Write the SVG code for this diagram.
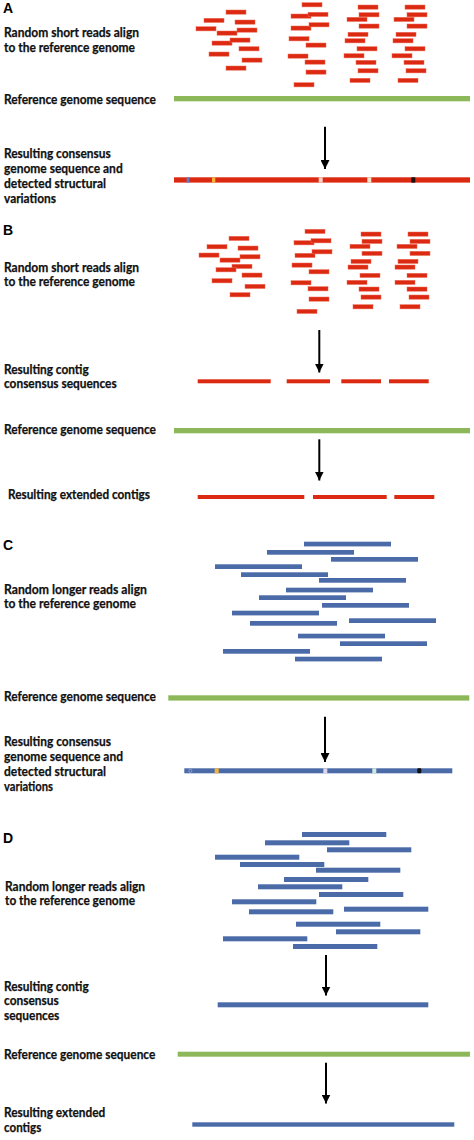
<svg xmlns="http://www.w3.org/2000/svg" width="474" height="1140" viewBox="0 0 474 1140">
<style>
  .lbl{font-family:"Lato","Open Sans","Liberation Sans",sans-serif;font-weight:bold;font-size:13px;fill:#111;stroke:#111;stroke-width:0.25}
  .sm{font-size:12.3px}
  .pl{font-family:"Liberation Sans",Arial,sans-serif;font-weight:bold;font-size:14px;fill:#000}
  .rr{fill:#dc2a12;stroke:#ee6a55;stroke-width:0.5}
  .rc{fill:#dc2a12}
  .bl{fill:#4b6aa8}
  .gr{fill:#8db85a}
  .arr{stroke:#000;stroke-width:2;fill:none;marker-end:url(#ah)}
</style>
<defs>
  <marker id="ah" markerUnits="userSpaceOnUse" markerWidth="9" markerHeight="9" refX="9" refY="4.5" orient="auto">
    <path d="M0,0 L9,4.5 L0,9 z" fill="#000"/>
  </marker>
  <rect id="sr" width="20" height="4.2"/>
  <rect id="lrC" width="87" height="4.7"/>
  <rect id="lrD" width="84.3" height="5"/>
</defs>
<rect width="474" height="1140" fill="#fff"/>

<!-- Panel A -->
<g id="panelA-title"><text class="pl" x="3" y="13.3">A</text></g>
<g id="panelA-reads-label">
  <text class="lbl" x="4" y="37" textLength="135" lengthAdjust="spacingAndGlyphs">Random short reads align</text>
  <text class="lbl" x="4" y="52" textLength="131" lengthAdjust="spacingAndGlyphs">to the reference genome</text>
</g>
<g id="panelA-reads" class="rr">
  <use href="#sr" x="226" y="10"/><use href="#sr" x="204" y="18.3"/><use href="#sr" x="235" y="20"/><use href="#sr" x="196" y="26.7"/><use href="#sr" x="217" y="31"/><use href="#sr" x="237" y="28"/><use href="#sr" x="212" y="41"/><use href="#sr" x="230" y="38"/><use href="#sr" x="239" y="46.7"/><use href="#sr" x="209" y="52"/><use href="#sr" x="242" y="58"/><use href="#sr" x="226" y="66"/>
  <use href="#sr" x="302" y="2.7"/><use href="#sr" x="291" y="14"/><use href="#sr" x="308" y="12.3"/><use href="#sr" x="291" y="26"/><use href="#sr" x="309" y="22.7"/><use href="#sr" x="289" y="36.7"/><use href="#sr" x="306" y="43"/><use href="#sr" x="288" y="54"/><use href="#sr" x="305" y="60"/><use href="#sr" x="306" y="70"/><use href="#sr" x="294" y="82.7"/>
  <use href="#sr" x="358" y="5"/><use href="#sr" x="359" y="12.7"/><use href="#sr" x="347" y="17.3"/><use href="#sr" x="359" y="24"/><use href="#sr" x="348" y="32.3"/><use href="#sr" x="345" y="38.7"/><use href="#sr" x="357" y="46.7"/><use href="#sr" x="344" y="53.7"/><use href="#sr" x="356" y="60.3"/><use href="#sr" x="358" y="68.7"/><use href="#sr" x="350" y="78.3"/>
  <use href="#sr" x="405" y="5"/><use href="#sr" x="407" y="12.7"/><use href="#sr" x="394" y="17.3"/><use href="#sr" x="407" y="24"/><use href="#sr" x="396" y="32.3"/><use href="#sr" x="393" y="38.7"/><use href="#sr" x="405" y="46.7"/><use href="#sr" x="392" y="53.7"/><use href="#sr" x="404" y="60.3"/><use href="#sr" x="406" y="68.7"/><use href="#sr" x="398" y="78.3"/>
</g>
<g id="panelA-reference">
  <text class="lbl" x="4" y="103.5" textLength="152" lengthAdjust="spacingAndGlyphs">Reference genome sequence</text>
  <rect class="gr" x="174" y="96" width="296" height="5.3"/>
</g>
<g id="panelA-consensus">
  <text class="lbl" x="4" y="158.3" textLength="106.7" lengthAdjust="spacingAndGlyphs">Resulting consensus</text>
  <text class="lbl" x="4" y="173.3" textLength="118.7" lengthAdjust="spacingAndGlyphs">genome sequence and</text>
  <text class="lbl" x="4" y="188.3" textLength="102" lengthAdjust="spacingAndGlyphs">detected structural</text>
  <text class="lbl" x="4" y="203.3" textLength="52" lengthAdjust="spacingAndGlyphs">variations</text>
  <rect class="rc" x="174" y="177.3" width="296" height="5.3"/>
  <rect x="186.7" y="177.3" width="2.7" height="5.3" fill="#5b7fd0"/>
  <rect x="212" y="177.3" width="3.3" height="5.3" fill="#f4b63a"/>
  <rect x="318.7" y="177.3" width="4" height="5.3" fill="#f3d2c8"/>
  <rect x="367.3" y="177.3" width="4" height="5.3" fill="#f2e6cc"/>
  <rect x="411.3" y="177.3" width="4" height="5.3" fill="#1a1010"/>
</g>

<!-- Panel B -->
<g id="panelB-title"><text class="pl" x="3" y="235">B</text></g>
<g id="panelB-reads-label">
  <text class="lbl" x="4" y="271.7" textLength="135" lengthAdjust="spacingAndGlyphs">Random short reads align</text>
  <text class="lbl" x="4" y="286" textLength="131" lengthAdjust="spacingAndGlyphs">to the reference genome</text>
</g>
<g id="panelB-reads" class="rr">
  <use href="#sr" x="229" y="236.3"/><use href="#sr" x="207" y="244.7"/><use href="#sr" x="238" y="246"/><use href="#sr" x="199" y="253"/><use href="#sr" x="240" y="254.7"/><use href="#sr" x="220" y="258"/><use href="#sr" x="232" y="264.3"/><use href="#sr" x="216" y="267.7"/><use href="#sr" x="242" y="273"/><use href="#sr" x="212" y="278.7"/><use href="#sr" x="245" y="284.3"/><use href="#sr" x="230" y="292.7"/>
  <use href="#sr" x="305" y="229.3"/><use href="#sr" x="294" y="240.7"/><use href="#sr" x="311" y="238.7"/><use href="#sr" x="295" y="253.3"/><use href="#sr" x="312" y="249.7"/><use href="#sr" x="292" y="263"/><use href="#sr" x="309" y="269.7"/><use href="#sr" x="291" y="280.7"/><use href="#sr" x="308" y="286.7"/><use href="#sr" x="309" y="297"/><use href="#sr" x="297" y="309.3"/>
  <use href="#sr" x="361" y="232"/><use href="#sr" x="362" y="239.3"/><use href="#sr" x="350" y="244.3"/><use href="#sr" x="362" y="251.3"/><use href="#sr" x="351" y="259.3"/><use href="#sr" x="348" y="265"/><use href="#sr" x="360" y="273.3"/><use href="#sr" x="347" y="280.3"/><use href="#sr" x="359" y="287"/><use href="#sr" x="361" y="295"/><use href="#sr" x="353" y="304.7"/>
  <use href="#sr" x="408" y="232"/><use href="#sr" x="410" y="239.3"/><use href="#sr" x="397" y="244.3"/><use href="#sr" x="410" y="251.3"/><use href="#sr" x="398" y="259.3"/><use href="#sr" x="395" y="265"/><use href="#sr" x="407" y="273.3"/><use href="#sr" x="395" y="280.3"/><use href="#sr" x="407" y="287"/><use href="#sr" x="409" y="295"/><use href="#sr" x="400" y="304.7"/>
</g>
<g id="panelB-contigs">
  <text class="lbl sm" x="4" y="373.5" textLength="84.7" lengthAdjust="spacingAndGlyphs">Resulting contig</text>
  <text class="lbl sm" x="4" y="388" textLength="112.7" lengthAdjust="spacingAndGlyphs">consensus sequences</text>
  <rect class="rc" x="197.7" y="379.3" width="73" height="4"/>
  <rect class="rc" x="286.7" y="379.3" width="43.3" height="4"/>
  <rect class="rc" x="341.3" y="379.3" width="39.7" height="4"/>
  <rect class="rc" x="389" y="379.3" width="39.7" height="4"/>
</g>
<g id="panelB-reference">
  <text class="lbl" x="4" y="434.3" textLength="152" lengthAdjust="spacingAndGlyphs">Reference genome sequence</text>
  <rect class="gr" x="174" y="428" width="296" height="5.3"/>
</g>
<g id="panelB-extended">
  <text class="lbl" x="8" y="499" textLength="142" lengthAdjust="spacingAndGlyphs">Resulting extended contigs</text>
  <rect class="rc" x="197.7" y="495" width="106.6" height="4"/>
  <rect class="rc" x="313" y="495" width="73.7" height="4"/>
  <rect class="rc" x="394.3" y="495" width="40" height="4"/>
</g>

<!-- Panel C -->
<g id="panelC-title"><text class="pl" x="3" y="550">C</text></g>
<g id="panelC-reads-label">
  <text class="lbl" x="4" y="594" textLength="143" lengthAdjust="spacingAndGlyphs">Random longer reads align</text>
  <text class="lbl" x="4" y="608.3" textLength="132" lengthAdjust="spacingAndGlyphs">to the reference genome</text>
</g>
<g id="panelC-reads" class="bl">
  <use href="#lrC" x="304" y="541.7"/><use href="#lrC" x="267" y="550"/><use href="#lrC" x="331" y="557"/><use href="#lrC" x="215" y="564.3"/><use href="#lrC" x="241" y="572.3"/><use href="#lrC" x="319" y="578"/><use href="#lrC" x="286" y="587.7"/><use href="#lrC" x="259" y="595.3"/><use href="#lrC" x="322" y="603"/><use href="#lrC" x="232" y="610.7"/><use href="#lrC" x="349" y="618.3"/><use href="#lrC" x="250" y="621"/><use href="#lrC" x="298" y="633.7"/><use href="#lrC" x="340" y="641.3"/><use href="#lrC" x="223" y="649"/><use href="#lrC" x="295" y="656.7"/>
</g>
<g id="panelC-reference">
  <text class="lbl" x="4" y="700.5" textLength="152" lengthAdjust="spacingAndGlyphs">Reference genome sequence</text>
  <rect class="gr" x="168.3" y="695.3" width="301" height="5.3"/>
</g>
<g id="panelC-consensus">
  <text class="lbl" x="4" y="745.5" textLength="107" lengthAdjust="spacingAndGlyphs">Resulting consensus</text>
  <text class="lbl" x="4" y="760.5" textLength="119" lengthAdjust="spacingAndGlyphs">genome sequence and</text>
  <text class="lbl" x="4" y="775.5" textLength="102" lengthAdjust="spacingAndGlyphs">detected structural</text>
  <text class="lbl" x="4" y="790.5" textLength="49" lengthAdjust="spacingAndGlyphs">variations</text>
  <rect class="bl" x="184.3" y="768.3" width="268" height="5"/>
  <circle cx="190.3" cy="770.8" r="1.6" fill="none" stroke="#9fb3dc" stroke-width="0.7"/>
  <rect x="214.7" y="768.3" width="4" height="5" fill="#f4b63a"/>
  <rect x="323.3" y="768.3" width="4" height="5" fill="#dcd6ea"/>
  <rect x="372.3" y="768.3" width="4" height="5" fill="#cfe8dc"/>
  <rect x="417.3" y="768.3" width="4" height="5" rx="1" fill="#111"/>
</g>

<!-- Panel D -->
<g id="panelD-title"><text class="pl" x="3" y="842.7">D</text></g>
<g id="panelD-reads-label">
  <text class="lbl" x="5" y="890.7" textLength="140" lengthAdjust="spacingAndGlyphs">Random longer reads align</text>
  <text class="lbl" x="5" y="905" textLength="130" lengthAdjust="spacingAndGlyphs">to the reference genome</text>
</g>
<g id="panelD-reads" class="bl">
  <use href="#lrD" x="302" y="832"/><use href="#lrD" x="265" y="840.3"/><use href="#lrD" x="327" y="847.3"/><use href="#lrD" x="215" y="854.7"/><use href="#lrD" x="240" y="862"/><use href="#lrD" x="316" y="867.7"/><use href="#lrD" x="284" y="877"/><use href="#lrD" x="258" y="884.3"/><use href="#lrD" x="319" y="892"/><use href="#lrD" x="232" y="899.3"/><use href="#lrD" x="344" y="906.7"/><use href="#lrD" x="249" y="909.3"/><use href="#lrD" x="296" y="921.7"/><use href="#lrD" x="336" y="929.3"/><use href="#lrD" x="223" y="936.3"/><use href="#lrD" x="293" y="944"/>
</g>
<g id="panelD-contig">
  <text class="lbl" x="4" y="990.5" textLength="84.7" lengthAdjust="spacingAndGlyphs">Resulting contig</text>
  <text class="lbl" x="4" y="1005" textLength="54.7" lengthAdjust="spacingAndGlyphs">consensus</text>
  <text class="lbl" x="4" y="1019.5" textLength="55.3" lengthAdjust="spacingAndGlyphs">sequences</text>
  <rect class="bl" x="217.7" y="1002.3" width="210.6" height="5"/>
</g>
<g id="panelD-reference">
  <text class="lbl" x="4" y="1059.3" textLength="151.3" lengthAdjust="spacingAndGlyphs">Reference genome sequence</text>
  <rect class="gr" x="177.7" y="1051.7" width="292.3" height="5"/>
</g>
<g id="panelD-extended">
  <text class="lbl" x="4" y="1117.3" textLength="101.3" lengthAdjust="spacingAndGlyphs">Resulting extended</text>
  <text class="lbl" x="4" y="1131.7" textLength="37.3" lengthAdjust="spacingAndGlyphs">contigs</text>
  <rect class="bl" x="192.3" y="1122.3" width="262" height="4.4"/>
</g>

<g id="connectors">
  <line class="arr" x1="325" y1="126.7" x2="325" y2="169"/>
  <line class="arr" x1="319.3" y1="330" x2="319.3" y2="372.5"/>
  <line class="arr" x1="319.3" y1="439.3" x2="319.3" y2="480.5"/>
  <line class="arr" x1="325" y1="716.7" x2="325" y2="762"/>
  <line class="arr" x1="326" y1="955" x2="326" y2="995.5"/>
  <line class="arr" x1="326" y1="1062.7" x2="326" y2="1103.5"/>
</g>
</svg>
